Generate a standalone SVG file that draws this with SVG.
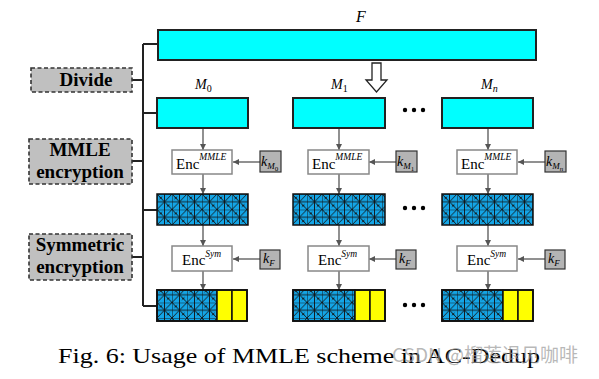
<svg xmlns="http://www.w3.org/2000/svg" width="599" height="379" viewBox="0 0 599 379">
<style>
.lab{fill:#c0c0c0;stroke:#333;stroke-width:1.6;stroke-dasharray:4,2.5}
.labt{font-family:'Liberation Serif','Times New Roman',Times,serif;font-weight:bold;font-size:19px;fill:#000;text-anchor:middle}
.cyan{fill:#00ffff;stroke:#222;stroke-width:2}
.enc{fill:#fff;stroke:#888;stroke-width:1.5}
.key{fill:#b4b4b4;stroke:#333;stroke-width:1.2}
.hat{fill:url(#hatch);stroke:#111;stroke-width:1.5}
.yel{fill:#ffff00;stroke:#111;stroke-width:1.5}
.t{font-family:'Liberation Serif','Times New Roman',Times,serif;fill:#000}
.it{font-family:'Liberation Serif','Times New Roman',Times,serif;font-style:italic;fill:#000}
.spine{stroke:#222;stroke-width:2;fill:none}
.arr{stroke:#555;stroke-width:1.3;fill:none;marker-end:url(#ah)}
</style>
<defs>
<marker id="ah" viewBox="0 0 10 10" refX="10" refY="5" markerWidth="6" markerHeight="6" markerUnits="userSpaceOnUse" orient="auto">
<path d="M0,0 L10,5 L0,10 z" fill="#555"/>
</marker>
<pattern id="hatch" patternUnits="userSpaceOnUse" x="157" y="194" width="15" height="15.5">
<rect width="15" height="15.5" fill="#14a5e6"/>
<path d="M0,0H15M0,7.75H15M0,0V15.5M7.5,0V15.5M0,0L15,15.5M15,0L0,15.5M2.5,2.6L5,5.2M5,2.6L2.5,5.2M10,10.3L12.5,12.9M12.5,10.3L10,12.9" stroke="#111" stroke-width="0.9" fill="none"/>
</pattern>
</defs>

<g id="connectors">
<path class="spine" d="M143,44V306M143,44H158M143,113H157M143,210H157M143,306H157M132,80H143M132,161H143M132,257H143"/>
<path class="arr" d="M203,128V150"/>
<path class="arr" d="M203,174V194"/>
<path class="arr" d="M203,225V246"/>
<path class="arr" d="M203,271V290"/>
<path class="arr" d="M260,162H233"/>
<path class="arr" d="M260,259H233"/>
<path class="arr" d="M339,128V150"/>
<path class="arr" d="M339,174V194"/>
<path class="arr" d="M339,225V246"/>
<path class="arr" d="M339,271V290"/>
<path class="arr" d="M396,162H369"/>
<path class="arr" d="M396,259H369"/>
<path class="arr" d="M488,128V150"/>
<path class="arr" d="M488,174V194"/>
<path class="arr" d="M488,225V246"/>
<path class="arr" d="M488,271V290"/>
<path class="arr" d="M545,162H518"/>
<path class="arr" d="M545,259H518"/>
<path id="bigarrow" d="M372,63H381V80H387L376.5,92L366,80H372Z" fill="#fff" stroke="#222" stroke-width="1.3"/>
</g>

<g id="divide"><rect class="lab" x="31" y="68" width="101" height="24"/><text class="labt" x="86" y="86">Divide</text></g>
<g id="mmle"><rect class="lab" x="29" y="139" width="103" height="45"/><text class="labt" x="80" y="156">MMLE</text><text class="labt" x="80" y="178">encryption</text></g>
<g id="sym"><rect class="lab" x="29" y="234" width="103" height="46"/><text class="labt" x="80" y="251">Symmetric</text><text class="labt" x="80" y="273">encryption</text></g>

<g id="F"><rect class="cyan" x="158" y="30" width="378" height="30"/><text class="it" x="356" y="22" font-size="16">F</text></g>

<g id="M0"><rect class="cyan" x="157" y="98" width="91" height="30"/><text class="it" x="195" y="89" font-size="14">M<tspan font-size="10" font-style="normal" dy="3">0</tspan></text></g>
<g id="M1"><rect class="cyan" x="293" y="98" width="92" height="30"/><text class="it" x="331" y="89" font-size="14">M<tspan font-size="10" font-style="normal" dy="3">1</tspan></text></g>
<g id="Mn"><rect class="cyan" x="442" y="98" width="91" height="30"/><text class="it" x="481" y="89" font-size="14">M<tspan font-size="10" dy="3">n</tspan></text></g>

<g id="dots" fill="#000">
<circle cx="405" cy="110" r="2.2"/><circle cx="414" cy="110" r="2.2"/><circle cx="423" cy="110" r="2.2"/>
<circle cx="405" cy="208" r="2.2"/><circle cx="414" cy="208" r="2.2"/><circle cx="423" cy="208" r="2.2"/>
<circle cx="405" cy="305" r="2.2"/><circle cx="414" cy="305" r="2.2"/><circle cx="423" cy="305" r="2.2"/>
</g>

<g id="encM0"><rect class="enc" x="172" y="150" width="60" height="24"/><text class="t" x="176" y="169" font-size="15">Enc<tspan class="it" font-size="9.5" dy="-9">MMLE</tspan></text></g>
<g id="encM1"><rect class="enc" x="308" y="150" width="61" height="24"/><text class="t" x="312" y="169" font-size="15">Enc<tspan class="it" font-size="9.5" dy="-9">MMLE</tspan></text></g>
<g id="encMn"><rect class="enc" x="457" y="150" width="60" height="24"/><text class="t" x="461" y="169" font-size="15">Enc<tspan class="it" font-size="9.5" dy="-9">MMLE</tspan></text></g>

<g id="kM0"><rect class="key" x="260" y="151" width="21" height="21"/><text class="it" x="261" y="166" font-size="14">k<tspan font-size="9" dy="3">M</tspan><tspan font-size="7" font-style="normal" dy="2">0</tspan></text></g>
<g id="kM1"><rect class="key" x="396" y="151" width="21" height="21"/><text class="it" x="397" y="166" font-size="14">k<tspan font-size="9" dy="3">M</tspan><tspan font-size="7" font-style="normal" dy="2">1</tspan></text></g>
<g id="kMn"><rect class="key" x="545" y="151" width="21" height="21"/><text class="it" x="546" y="166" font-size="14">k<tspan font-size="9" dy="3">M</tspan><tspan font-size="7" dy="2">n</tspan></text></g>

<g id="c0"><rect class="hat" x="157" y="194" width="91" height="31"/></g>
<g id="c1"><rect class="hat" x="293" y="194" width="92" height="31"/></g>
<g id="cn"><rect class="hat" x="442" y="194" width="91" height="31"/></g>

<g id="encS0"><rect class="enc" x="172" y="246" width="60" height="25"/><text class="t" x="182" y="265" font-size="15">Enc<tspan class="it" font-size="9.5" dy="-8">Sym</tspan></text></g>
<g id="encS1"><rect class="enc" x="308" y="246" width="61" height="25"/><text class="t" x="318" y="265" font-size="15">Enc<tspan class="it" font-size="9.5" dy="-8">Sym</tspan></text></g>
<g id="encSn"><rect class="enc" x="457" y="246" width="60" height="25"/><text class="t" x="467" y="265" font-size="15">Enc<tspan class="it" font-size="9.5" dy="-8">Sym</tspan></text></g>

<g id="kF0"><rect class="key" x="260" y="250" width="20" height="19"/><text class="it" x="263" y="263" font-size="14">k<tspan font-size="9" dy="3">F</tspan></text></g>
<g id="kF1"><rect class="key" x="396" y="250" width="20" height="19"/><text class="it" x="399" y="263" font-size="14">k<tspan font-size="9" dy="3">F</tspan></text></g>
<g id="kFn"><rect class="key" x="545" y="250" width="20" height="19"/><text class="it" x="548" y="263" font-size="14">k<tspan font-size="9" dy="3">F</tspan></text></g>

<g id="out0"><rect class="hat" x="157" y="290" width="60" height="31"/><rect class="yel" x="217" y="290" width="15" height="31"/><rect class="yel" x="232" y="290" width="15" height="31"/><rect x="157" y="290" width="90" height="31" fill="none" stroke="#111" stroke-width="1.8"/></g>
<g id="out1"><rect class="hat" x="293" y="290" width="62" height="31"/><rect class="yel" x="355" y="290" width="15" height="31"/><rect class="yel" x="370" y="290" width="15" height="31"/><rect x="293" y="290" width="92" height="31" fill="none" stroke="#111" stroke-width="1.8"/></g>
<g id="outn"><rect class="hat" x="442" y="290" width="61" height="31"/><rect class="yel" x="503" y="290" width="15" height="31"/><rect class="yel" x="518" y="290" width="15" height="31"/><rect x="442" y="290" width="91" height="31" fill="none" stroke="#111" stroke-width="1.8"/></g>

<text id="caption" class="t" x="58" y="363" font-size="22" textLength="482" lengthAdjust="spacingAndGlyphs">Fig. 6: Usage of MMLE scheme in AC-Dedup</text>
<text id="watermark" x="392" y="362" font-family="'Noto Sans CJK SC',sans-serif" font-size="19" fill="#999" fill-opacity="0.7">CSDN @榴莲退见咖啡</text>
</svg>
